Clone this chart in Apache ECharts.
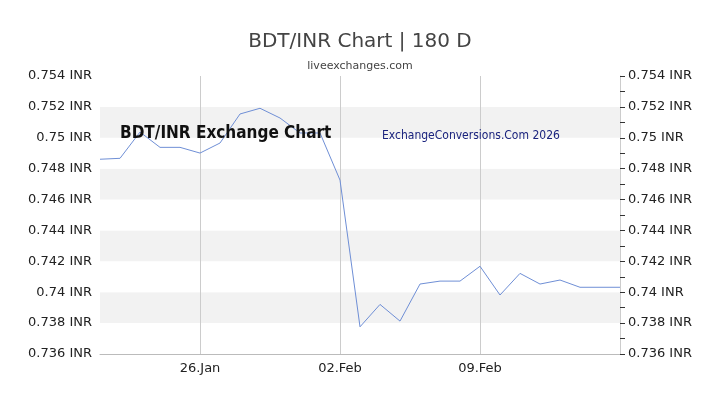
<!DOCTYPE html>
<html><head><meta charset="utf-8">
<script src="https://cdn.jsdelivr.net/npm/echarts@6/dist/echarts.min.js"></script>
<style>html,body{margin:0;padding:0;background:#fff}#c{width:720px;height:405px}</style>
</head><body><div id="c"></div>
<script>
const dates = ['21.Jan','22.Jan','23.Jan','24.Jan','25.Jan','26.Jan','27.Jan','28.Jan','29.Jan','30.Jan','31.Jan','01.Feb','02.Feb','03.Feb','04.Feb','05.Feb','06.Feb','07.Feb','08.Feb','09.Feb','10.Feb','11.Feb','12.Feb','13.Feb','14.Feb','15.Feb','16.Feb'];
const rates = [0.74861,0.74867,0.75037,0.74938,0.74938,0.74901,0.74966,0.75154,0.75191,0.75128,0.75031,0.75031,0.74726,0.73776,0.73921,0.73813,0.74053,0.74072,0.74072,0.74168,0.73982,0.74122,0.74053,0.74079,0.74032,0.74032,0.74032];
const labelDates = ['26.Jan','02.Feb','09.Feb'];
const ch = echarts.init(document.getElementById('c'));
const yBase = {type:'value',min:0.736,max:0.754,interval:0.002,axisLine:{show:false},
  axisLabel:{color:'#222',fontSize:13,fontFamily:'DejaVu Sans',formatter:v=>(+v.toFixed(3))+' INR'}};
ch.setOption({
  title:{text:'BDT/INR Chart | 180 D',subtext:'liveexchanges.com',left:'center',top:27,
    textStyle:{color:'#444',fontSize:20,fontWeight:'normal',fontFamily:'DejaVu Sans'},
    subtextStyle:{color:'#444',fontSize:11,fontFamily:'DejaVu Sans'},itemGap:9},
  grid:{left:100,right:100,top:76,bottom:51},
  xAxis:{type:'category',data:dates,boundaryGap:false,
    axisLine:{lineStyle:{color:'#bbb'}},
    axisTick:{show:false},
    axisLabel:{interval:(i,v)=>labelDates.includes(v),color:'#222',fontSize:13,fontFamily:'DejaVu Sans',margin:8},
    splitLine:{show:true,interval:(i,v)=>labelDates.includes(v),lineStyle:{color:'#ccc'}}},
  yAxis:[Object.assign({},yBase,{position:'left',axisTick:{show:false},
      splitLine:{show:false},splitArea:{show:true,areaStyle:{color:['#ffffff','#f2f2f2']}}}),
    Object.assign({},yBase,{position:'right',axisTick:{show:true,length:5,lineStyle:{color:'#333'}},
      minorTick:{show:true,splitNumber:2,length:5,lineStyle:{color:'#333'}},
      axisLine:{show:true,lineStyle:{color:'#ccc'}},splitLine:{show:false}})],
  series:[{type:'line',data:rates,yAxisIndex:0,symbol:'none',z:5,lineStyle:{color:'#6f8fd6',width:1}}],
  graphic:[
    {type:'text',left:120,top:125,z:100,style:{text:'BDT/INR Exchange Chart',fill:'#111',fontSize:17,fontWeight:'bold',fontFamily:'Liberation Sans Narrow, DejaVu Sans Condensed'}},
    {type:'text',left:382,top:130,z:100,style:{text:'ExchangeConversions.Com 2026',fill:'#1a237e',fontSize:12,fontFamily:'Liberation Sans Narrow, DejaVu Sans Condensed'}}
  ]
});
</script></body></html>
